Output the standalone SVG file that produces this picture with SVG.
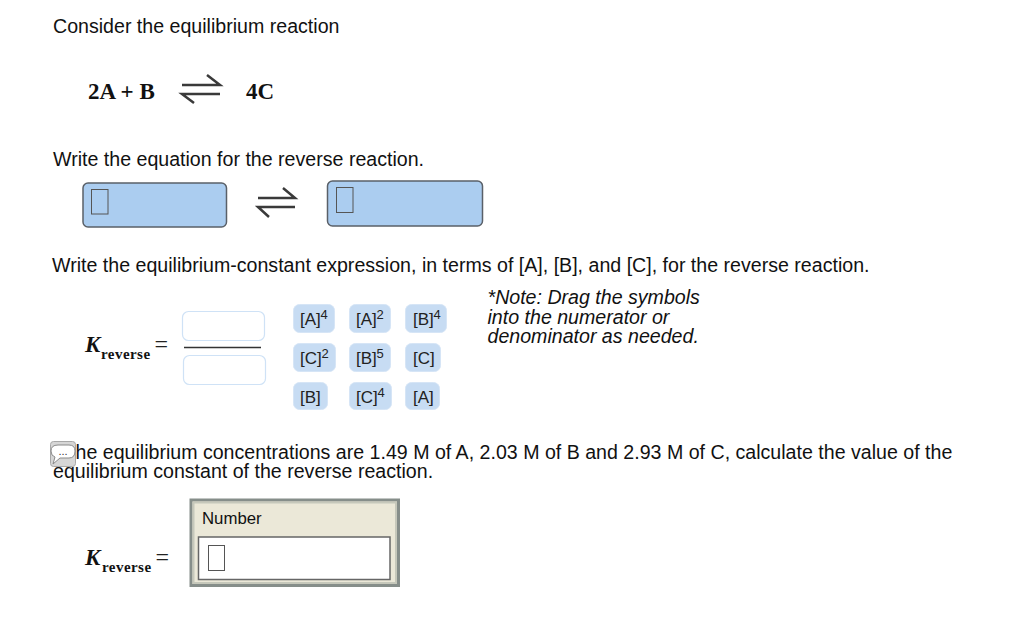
<svg xmlns="http://www.w3.org/2000/svg" width="1024" height="618" viewBox="0 0 1024 618">
<style>
.t{font-family:"Liberation Sans",Arial,sans-serif;font-size:19.6px;fill:#111}
.it{font-style:italic}
.s{font-family:"Liberation Sans",Arial,sans-serif;font-size:17px;fill:#222}
.sup{font-family:"Liberation Sans",Arial,sans-serif;font-size:13px;fill:#222}
.m{font-family:"Liberation Serif","Times New Roman",serif;font-weight:bold;fill:#111}
.r{font-size:15px;letter-spacing:.45px}
.eq{font-family:"Liberation Serif","Times New Roman",serif;font-size:24px;fill:#222}
.arr{fill:none;stroke:#3a3a3a;stroke-width:2.5}
.drop{fill:#abcdf0;stroke:#5a6068;stroke-width:1.5}
.ph{fill:none;stroke:#555;stroke-width:1}
.slot{fill:#fff;stroke:#cfe2f6;stroke-width:1.2}
.tile{fill:#c7dcf3;stroke:#d6e5f6;stroke-width:1}
</style>
<rect width="1024" height="618" fill="#fff"/>
<text class="t" x="53" y="32.700">Consider the equilibrium reaction</text>
<g id="equation-forward">
<text class="m" x="88" y="98.500" font-size="23">2A + B</text>
<text class="m" x="246" y="98.500" font-size="23">4C</text>
<path class="arr" d="M182 85H220L207 75M220 94H182L194 103"/>
</g>
<text class="t" x="53" y="165.700">Write the equation for the reverse reaction.</text>
<g id="drop-left"><rect class="drop" x="83" y="183" width="143.500" height="44" rx="5"/><rect class="ph" x="91.500" y="189.500" width="16.500" height="24.500"/></g>
<path class="arr" d="M258 198H295L283 188M295 207H258L269 217"/>
<g id="drop-right"><rect class="drop" x="327.500" y="181" width="155" height="45" rx="5"/><rect class="ph" x="336.500" y="187.500" width="16.500" height="25"/></g>
<text class="t" x="52" y="271.700">Write the equilibrium-constant expression, in terms of [A], [B], and [C], for the reverse reaction.</text>
<text class="t it" x="487.500" y="304">*Note: Drag the symbols</text>
<text class="t it" x="487.500" y="323.500">into the numerator or</text>
<text class="t it" x="487.500" y="343">denominator as needed.</text>
<g id="k-label-1"><text class="m it" x="85" y="352" font-size="23">K</text><text class="m r" x="101" y="359">reverse</text><text class="eq" x="154.500" y="352">=</text></g>
<g id="fraction">
<rect class="slot" x="182.500" y="311.500" width="82" height="29" rx="6"/>
<rect class="slot" x="183.500" y="355.500" width="82" height="29" rx="6"/>
<path d="M184 347.500H261" stroke="#333" stroke-width="1.300"/>
</g>
<g id="tile-a4"><rect class="tile" x="293.500" y="304.500" width="41" height="28" rx="6"/><text class="s" x="300" y="325">[A]</text><text class="sup" x="320.500" y="319">4</text></g>
<g id="tile-a2"><rect class="tile" x="349.500" y="304.500" width="41" height="28" rx="6"/><text class="s" x="356" y="325">[A]</text><text class="sup" x="376.500" y="319">2</text></g>
<g id="tile-b4"><rect class="tile" x="405.500" y="304.500" width="41" height="28" rx="6"/><text class="s" x="413" y="325">[B]</text><text class="sup" x="433.500" y="319">4</text></g>
<g id="tile-c2"><rect class="tile" x="293.500" y="343.500" width="42" height="28" rx="6"/><text class="s" x="300" y="364">[C]</text><text class="sup" x="321.500" y="358">2</text></g>
<g id="tile-b5"><rect class="tile" x="349.500" y="343.500" width="41" height="28" rx="6"/><text class="s" x="356" y="364">[B]</text><text class="sup" x="376.500" y="358">5</text></g>
<g id="tile-c"><rect class="tile" x="405.500" y="343.500" width="35" height="28" rx="6"/><text class="s" x="413" y="364">[C]</text></g>
<g id="tile-b"><rect class="tile" x="293.500" y="382.500" width="34" height="27" rx="6"/><text class="s" x="300" y="403">[B]</text></g>
<g id="tile-c4"><rect class="tile" x="349.500" y="382.500" width="42" height="27" rx="6"/><text class="s" x="356" y="403">[C]</text><text class="sup" x="377.500" y="397">4</text></g>
<g id="tile-a"><rect class="tile" x="405.500" y="382.500" width="34" height="27" rx="6"/><text class="s" x="413" y="403">[A]</text></g>
<text class="t" x="75.500" y="458.500">he equilibrium concentrations are 1.49 M of A, 2.03 M of B and 2.93 M of C, calculate the value of the</text>
<text class="t" x="53" y="477.500">equilibrium constant of the reverse reaction.</text>
<g id="comment-icon">
<rect x="50.500" y="441.500" width="25" height="25" rx="3" fill="#d6d6d6" stroke="#a8a8a8"/>
<path d="M58 445H69Q75 445 75 451V451Q75 458 69 458H60L53 464L55 457Q51 456 51 451V451Q51 445 58 445Z" fill="#fff" stroke="#8a8a8a"/>
<text x="63" y="455" font-family="Liberation Sans,sans-serif" font-size="11" text-anchor="middle" fill="#333">...</text>
</g>
<g id="number-box">
<rect x="191" y="500" width="207.500" height="85.500" fill="#ebe8d8" stroke="#868e8a" stroke-width="3"/>
<rect x="193.500" y="502.500" width="202.500" height="80.500" fill="none" stroke="#c6c8bb" stroke-width="2"/>
<text x="202" y="524" font-family="Liberation Sans,sans-serif" font-size="16.800" fill="#111">Number</text>
<rect x="198.500" y="537" width="191.500" height="42.500" fill="#fff" stroke="#666" stroke-width="1.500"/>
<rect class="ph" x="208.500" y="545.500" width="16" height="25" stroke="#444"/>
</g>
<g id="k-label-2"><text class="m it" x="85" y="565" font-size="23">K</text><text class="m r" x="102" y="572">reverse</text><text class="eq" x="155.500" y="565">=</text></g>
</svg>
